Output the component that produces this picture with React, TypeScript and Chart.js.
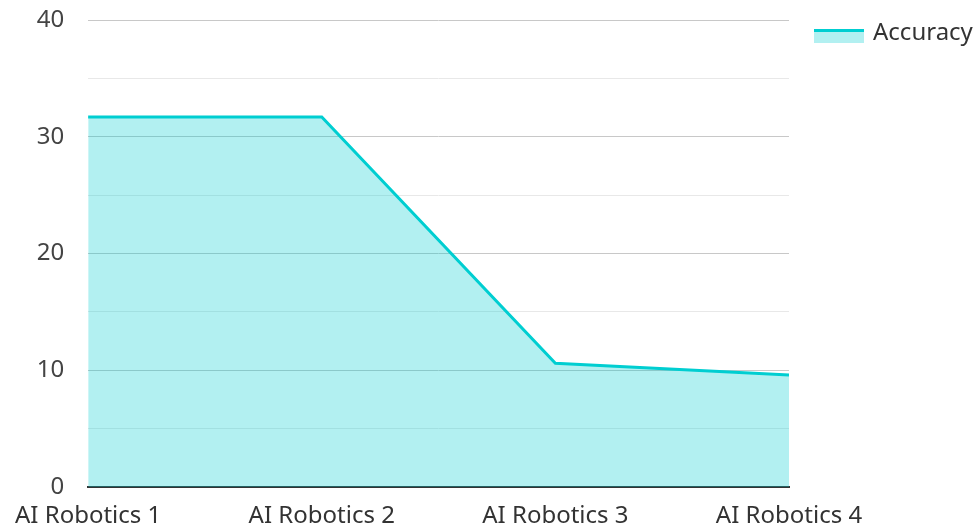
import React, { useEffect, useRef } from "react";
import { Chart, registerables } from "chart.js";

Chart.register(...registerables);

const categories = ["AI Robotics 1", "AI Robotics 2", "AI Robotics 3", "AI Robotics 4"];
const accuracy = [31.7, 31.7, 10.6, 9.6];
const seriesName = "Accuracy";

const LINE = "#00CED1";
const FILL = "rgba(0,206,209,0.3)";
const FONT = "'Noto Sans', 'Open Sans', sans-serif";

const customLegend = {
  id: "customLegend",
  afterDraw(chart: any) {
    const ctx = chart.ctx;
    const x = chart.chartArea.right + 25;
    const y = 29;
    ctx.save();
    ctx.fillStyle = FILL;
    ctx.fillRect(x, y, 50, 14);
    ctx.fillStyle = LINE;
    ctx.fillRect(x, y, 50, 3);
    ctx.fillStyle = "#333";
    ctx.font = `24px ${FONT}`;
    ctx.textBaseline = "middle";
    ctx.textAlign = "left";
    ctx.fillText(chart.data.datasets[0].label, x + 59, y + 4);
    ctx.restore();
  },
};

export default function App() {
  const ref = useRef<HTMLCanvasElement>(null);
  useEffect(() => {
    if (!ref.current) return;
    const chart = new Chart(ref.current, {
      type: "line",
      data: {
        labels: categories,
        datasets: [
          {
            label: seriesName,
            data: accuracy,
            borderColor: LINE,
            backgroundColor: FILL,
            borderWidth: 3,
            fill: "origin",
            pointRadius: 0,
            tension: 0,
          },
        ],
      },
      options: {
        animation: false,
        responsive: false,
        maintainAspectRatio: false,
        layout: { padding: { left: 12, right: 190, top: 20, bottom: 0 } },
        plugins: {
          tooltip: { enabled: false },
          legend: { display: false },
        },
        scales: {
          x: {
            offset: false,
            grid: { display: false, drawTicks: false },
            border: { display: true, color: "#333", width: 2 },
            afterFit: (s: any) => {
              s.height = 41;
            },
            ticks: {
              color: "#333",
              padding: 15,
              maxRotation: 0,
              autoSkip: false,
              font: { family: FONT, size: 24 },
            },
          },
          y: {
            min: 0,
            max: 40,
            border: { display: false },
            afterFit: (s: any) => {
              s.paddingTop = 0;
              s.paddingBottom = 0;
            },
            grid: {
              drawTicks: false,
              lineWidth: 1,
              color: (c: any) => (c.tick && c.tick.value % 10 === 0 ? "#c8c8c8" : "#e8e8e8"),
            },
            ticks: {
              stepSize: 5,
              padding: 24,
              color: "#444",
              font: { family: FONT, size: 24 },
              callback: (v: any) => (Number(v) % 10 === 0 ? String(v) : ""),
            },
          },
        },
      },
      plugins: [customLegend],
    });
    return () => chart.destroy();
  }, []);
  return (
    <div style={{ position: "fixed", left: 0, top: 0, width: 979, height: 528, background: "#fff" }}>
      <canvas ref={ref} width={979} height={528} style={{ width: 979, height: 528 }} />
    </div>
  );
}
